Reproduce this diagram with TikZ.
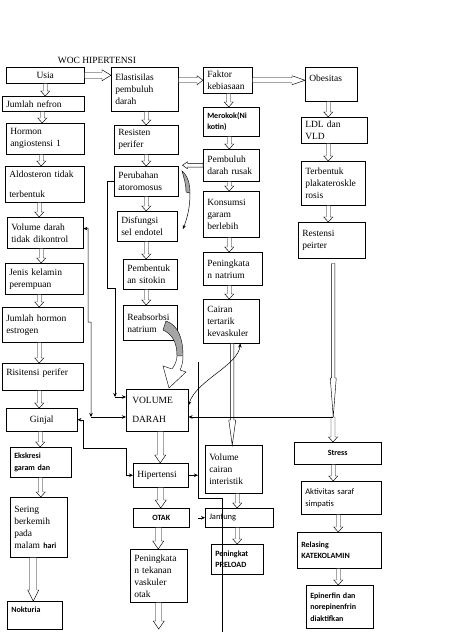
\documentclass[tikz,border=0pt]{standalone}
\usepackage{fontspec}
\setmainfont{Liberation Serif}
\newfontfamily\calibri{Carlito}
\usetikzlibrary{arrows.meta, calc}
\definecolor{clrborder}{HTML}{000000}
\definecolor{clrtext}{HTML}{000000}
\definecolor{clrshade}{HTML}{A6A6A6}
% block arrows: start, end, shaft half width, head half width, head length
\newcommand{\blkdown}[5]{\draw[blockarrow] let \p1=(#1), \p2=(#2) in
  (\x1-#3,\y1) -- (\x1-#3,\y2+#5) -- (\x1-#4,\y2+#5) -- (\x1,\y2) -- (\x1+#4,\y2+#5) -- (\x1+#3,\y2+#5) -- (\x1+#3,\y1) -- cycle;}
\newcommand{\blkright}[5]{\draw[blockarrow] let \p1=(#1), \p2=(#2) in
  (\x1,\y1-#3) -- (\x2-#5,\y1-#3) -- (\x2-#5,\y1-#4) -- (\x2,\y1) -- (\x2-#5,\y1+#4) -- (\x2-#5,\y1+#3) -- (\x1,\y1+#3) -- cycle;}
\newcommand{\blkleft}[5]{\draw[blockarrow] let \p1=(#1), \p2=(#2) in
  (\x1,\y1-#3) -- (\x2+#5,\y1-#3) -- (\x2+#5,\y1-#4) -- (\x2,\y1) -- (\x2+#5,\y1+#4) -- (\x2+#5,\y1+#3) -- (\x1,\y1+#3) -- cycle;}

\begin{document}
\begin{tikzpicture}[
    x=1pt, y=-1pt,
    every node/.style={font=\fontsize{9.5}{12}\selectfont, text=clrtext},
    block/.style={draw=clrborder, line width=0.5pt, anchor=north west, inner xsep=4pt, inner ysep=1pt, align=left},
    sans/.style={font=\calibri\fontsize{8.5}{12}\selectfont},
    sansbold/.style={font=\calibri\bfseries\fontsize{8}{11.5}\selectfont},
    blockarrow/.style={draw=clrborder, fill=white, line width=0.45pt, line join=miter},
    link/.style={draw=clrborder, line width=0.5pt},
    thinarrow/.style={link, -{Stealth[length=4pt, width=3.5pt]}},
]
\useasboundingbox (0,0) rectangle (474,632);
\node[anchor=base] (n_title) at (97,63) {WOC HIPERTENSI};
% column 1
\node[block, text width=70pt, minimum height=16pt, align=center] (n_usia) at (6,67) {Usia};
\node[block, text width=74pt, minimum height=15pt] (n_nefron) at (2,96) {Jumlah nefron};
\node[block, text width=70pt, minimum height=31pt] (n_hormon) at (6,123) {Hormon\\angiostensi 1};
\node[block, text width=71pt, minimum height=36pt] (n_aldos) at (5,166) {Aldosteron tidak\\[8pt]terbentuk};
\node[block, text width=68pt, minimum height=31pt] (n_voltk) at (7,217) {Volume darah\\tidak dikontrol};
\node[block, text width=70pt, minimum height=31pt] (n_jenis) at (5,263) {Jenis kelamin\\perempuan};
\node[block, text width=73pt, minimum height=35pt] (n_estro) at (2,307) {Jumlah hormon\\estrogen};
\node[block, text width=73pt, minimum height=27pt] (n_risit) at (2,363) {Risitensi perifer\\[-3pt]\mbox{}};
\node[block, text width=63pt, minimum height=23pt, align=center] (n_ginjal) at (6,408) {Ginjal};
\node[block, text width=53pt, minimum height=30pt, sansbold] (n_ekskresi) at (10,447) {Ekskresi\\garam dan};
\node[block, text width=49pt, minimum height=60pt] (n_sering) at (10,497) {Sering\\berkemih\\pada\\malam {\calibri\bfseries\fontsize{8}{12}\selectfont hari}};
\node[block, text width=47pt, minimum height=28pt, sansbold] (n_noktur) at (7,601) {Nokturia\\\mbox{}};
% column 2
\node[block, text width=59pt, minimum height=44pt] (n_elast) at (111,67) {Elastisilas\\pembuluh\\darah};
\node[block, text width=56pt, minimum height=29pt] (n_resist) at (114,125) {Resisten\\perifer};
\node[block, text width=56pt, minimum height=30pt] (n_perub) at (114,166) {Perubahan\\atoromosus};
\node[block, text width=52pt, minimum height=30pt] (n_disf) at (117,211) {Disfungsi\\sel endotel};
\node[block, text width=46pt, minimum height=30pt] (n_sitok) at (123,259) {Pembentuk\\an sitokin};
\node[block, text width=46pt, minimum height=35pt] (n_reab) at (123,305) {Reabsorbsi\\natrium};
\node[block, text width=54pt, minimum height=42pt] (n_voldar) at (126,389) {\hspace{2pt}VOLUME\\[7pt]\hspace{2pt}DARAH};
\node[block, text width=47pt, minimum height=24pt] (n_hiper) at (133,463) {Hipertensi};
\node[block, text width=48pt, minimum height=19pt, sansbold, align=center] (n_otak) at (133,508) {OTAK};
\node[block, text width=49pt, minimum height=53pt] (n_penotak) at (130,549) {Peningkata\\n tekanan\\vaskuler\\otak};
% column 3
\node[block, text width=41pt, minimum height=26pt] (n_faktor) at (203,67) {Faktor\\kebiasaan};
\node[block, text width=48pt, minimum height=29pt, sansbold] (n_merokok) at (203,107) {Merokok(Ni\\kotin)};
\node[block, text width=48pt, minimum height=32pt] (n_pemrusak) at (203,149) {Pembuluh\\darah rusak};
\node[block, text width=48pt, minimum height=46pt] (n_konsumsi) at (203,191) {Konsumsi\\garam\\berlebih};
\node[block, text width=51pt, minimum height=33pt] (n_natrium) at (203,252) {Peningkata\\n natrium};
\node[block, text width=48pt, minimum height=44pt] (n_cairan) at (203,299) {Cairan\\tertarik\\kevaskuler};
\node[block, text width=49pt, minimum height=48pt] (n_volcair) at (205,445) {Volume\\cairan\\interistik};
\node[block, text width=60pt, minimum height=19pt, sans] (n_jantung) at (205,508) {Jantung};
\node[block, text width=44pt, minimum height=30pt, sansbold] (n_preload) at (211,544) {Peningkat\\PRELOAD};
% column 4
\node[block, text width=44pt, minimum height=34pt] (n_obes) at (305,67) {Obesitas\\\mbox{}};
\node[block, text width=58pt, minimum height=26pt] (n_ldl) at (301,117) {LDL dan\\VLD};
\node[block, text width=56pt, minimum height=44pt] (n_plak) at (301,161) {Terbentuk\\plakateroskle\\rosis};
\node[block, text width=59pt, minimum height=36pt] (n_restensi) at (298,222) {Restensi\\peirter};
\node[block, text width=79pt, minimum height=22pt, sansbold, align=center] (n_stress) at (294,442) {Stress};
\node[block, text width=72pt, minimum height=33pt, sans] (n_aktiv) at (301,481) {Aktivitas saraf\\simpatis};
\node[block, text width=76pt, minimum height=36pt, sansbold] (n_relas) at (297,532) {Relasing\\KATEKOLAMIN};
\node[block, text width=59pt, minimum height=43pt, sansbold] (n_epin) at (306,585) {Epinerfin dan\\norepinenfrin\\diaktifkan};
% free ends and bends
\coordinate (c_otak_end) at (158.5,629);
\coordinate (c_stress_join) at (333,417);
\coordinate (c_left_corner) at (91,417);
\coordinate (c_mid_corner) at (115,397);
\coordinate (c_mid_top) at (198,362);
\coordinate (c_mid_bend) at (198,498);
\coordinate (c_mid_bottom) at (222,632);
% block arrows, column 1
\blkdown{n_usia.south}{n_nefron.north}{2pt}{4.5pt}{5pt}
\blkdown{[xshift=-1pt]n_nefron.south}{n_hormon.north}{2pt}{4.5pt}{5pt}
\blkdown{[xshift=-4pt]n_hormon.south}{n_aldos.north}{2pt}{4.5pt}{5pt}
\blkdown{[xshift=-5.5pt]n_aldos.south}{n_voltk.north}{2pt}{4.5pt}{5pt}
\blkdown{[xshift=-4pt]n_voltk.south}{n_jenis.north}{2pt}{4.5pt}{5pt}
\blkdown{[xshift=-5pt]n_jenis.south}{n_estro.north}{2pt}{4.5pt}{5pt}
\blkdown{[xshift=-3.5pt]n_estro.south}{n_risit.north}{2pt}{4.5pt}{5pt}
\blkdown{[xshift=-3.5pt]n_risit.south}{n_ginjal.north}{2pt}{4.5pt}{5pt}
\blkdown{[xshift=-1.5pt]n_ginjal.south}{n_ekskresi.north}{2pt}{4.5pt}{5pt}
\blkdown{n_ekskresi.south}{n_sering.north}{2pt}{4.5pt}{5pt}
\blkdown{[xshift=-5.5pt]n_sering.south}{n_noktur.north}{3.5pt}{5.5pt}{11pt}
% block arrows, top row
\blkright{n_usia.east}{n_elast.west}{3pt}{5.5pt}{9pt}
\blkright{[yshift=9pt]n_elast.east}{n_faktor.west}{2.5pt}{4.5pt}{6pt}
\blkright{n_faktor.east}{n_obes.west}{2.5pt}{4.5pt}{13pt}
% block arrows, column 2
\blkdown{[xshift=1.5pt]n_elast.south}{n_resist.north}{2pt}{4.5pt}{5pt}
\blkdown{n_resist.south}{n_perub.north}{2pt}{4.5pt}{5pt}
\blkdown{n_perub.south}{n_disf.north}{2pt}{4.5pt}{5pt}
\blkdown{[xshift=-1pt]n_disf.south}{n_sitok.north}{2pt}{4.5pt}{5pt}
\blkdown{[xshift=-4pt]n_sitok.south}{n_reab.north}{2pt}{4.5pt}{5pt}
\blkdown{[xshift=3pt]n_voldar.south}{n_hiper.north}{3pt}{5.5pt}{8pt}
\blkdown{n_hiper.south}{n_otak.north}{3pt}{5.5pt}{8pt}
\blkdown{[xshift=-3pt]n_otak.south}{n_penotak.north}{3pt}{5.5pt}{8pt}
\blkdown{n_penotak.south}{c_otak_end}{3pt}{5.5pt}{8pt}
% block arrows, column 3
\blkdown{[xshift=1pt]n_faktor.south}{n_merokok.north}{2pt}{4.5pt}{5pt}
\blkdown{[xshift=-2pt]n_merokok.south}{n_pemrusak.north}{2pt}{4.5pt}{5pt}
\blkdown{[xshift=-2pt]n_pemrusak.south}{n_konsumsi.north}{2pt}{4.5pt}{5pt}
\blkdown{[xshift=-2pt]n_konsumsi.south}{n_natrium.north}{2pt}{4.5pt}{5pt}
\blkdown{[xshift=-3.5pt]n_natrium.south}{n_cairan.north}{2pt}{4.5pt}{5pt}
\blkdown{[xshift=1pt]n_cairan.south}{n_volcair.north}{1.7pt}{3.5pt}{25pt}
\blkdown{[xshift=3.5pt]n_volcair.south}{n_jantung.north}{2pt}{4.5pt}{5pt}
\blkdown{[xshift=-2pt]n_jantung.south}{n_preload.north}{2pt}{4.5pt}{5pt}
% block arrows, column 4
\blkdown{[xshift=-3pt]n_obes.south}{n_ldl.north}{2pt}{4.5pt}{5pt}
\blkdown{[xshift=-6pt]n_ldl.south}{n_plak.north}{2pt}{4.5pt}{5pt}
\blkdown{[xshift=-5pt]n_plak.south}{n_restensi.north}{2pt}{4.5pt}{5pt}
\blkdown{[xshift=1.5pt, yshift=-5pt]n_restensi.south}{c_stress_join}{1.6pt}{3pt}{39pt}
\blkdown{c_stress_join}{n_stress.north}{2pt}{4.5pt}{5pt}
\blkdown{[xshift=-4.5pt]n_stress.south}{n_aktiv.north}{2pt}{4.5pt}{5pt}
\blkdown{[xshift=-3pt]n_aktiv.south}{n_relas.north}{2pt}{4.5pt}{5pt}
\blkdown{[xshift=-1pt]n_relas.south}{n_epin.north}{2pt}{4.5pt}{5pt}
% thin connectors
\draw[link, {Stealth[length=4pt, width=3.5pt]}-{Stealth[length=4pt, width=3.5pt]}] ([yshift=4pt]n_voltk.east) -- (88,228.5) -- (88,322) -- (91,322) -- (c_left_corner);
\draw[thinarrow] (c_left_corner) -- (c_left_corner -| n_voldar.west);
\draw[thinarrow] (n_perub.west) -- ++(-7,0) |- (115,288) -- (c_mid_corner);
\draw[thinarrow] (c_mid_corner) -- (c_mid_corner -| n_voldar.west);
\draw[link, {Stealth[length=4pt, width=3.5pt]}-{Stealth[length=4pt, width=3.5pt]}] (n_ginjal.east) -- ++(6,0) |- (126,448) |- (n_hiper.west);
\draw[thinarrow] (c_stress_join) -- (c_stress_join -| n_voldar.east);
\draw[link, {Stealth[length=4pt, width=3.5pt]}-{Stealth[length=4pt, width=3.5pt]}] ([xshift=9pt]n_cairan.south) .. controls +(-2,22) and +(8,-25) .. ([yshift=5pt]n_voldar.east);
\draw[link] (c_mid_top) -- (c_mid_bend) -- (c_mid_bend -| c_mid_bottom) -- (c_mid_bottom);
\draw[thinarrow] (n_hiper.east) -- (n_hiper.east -| c_mid_top);
\draw[thinarrow] (n_jantung.west -| c_mid_top) -- (n_jantung.west);
% curved block arrows
\blkleft{n_pemrusak.west}{[xshift=4pt]n_perub.east |- n_pemrusak.west}{1.8pt}{3.5pt}{5pt}
\filldraw[fill=clrshade, draw=clrborder, line width=0.4pt] (182,171) .. controls (188,176) and (190,184) .. (190,193) -- (186,192) .. controls (186,184) and (184,178) .. (182,171) -- cycle;
\draw[link, -{Stealth[length=4pt, width=3.5pt]}] (190,193) .. controls (190,206) and (188,216) .. (183,229);
\filldraw[fill=clrshade, draw=clrborder, line width=0.4pt] (166,321) .. controls (178,325) and (183,338) .. (183,356) -- (177,356) .. controls (177,342) and (172,334) .. (163,330) -- cycle;
\filldraw[fill=white, draw=clrborder, line width=0.4pt] (183,356) .. controls (183,362) and (182,366) .. (180,370) -- (186,372) -- (169,388) -- (163,366) -- (172,369) .. controls (175,365) and (177,360) .. (177,356) -- cycle;
\end{tikzpicture}
\end{document}
